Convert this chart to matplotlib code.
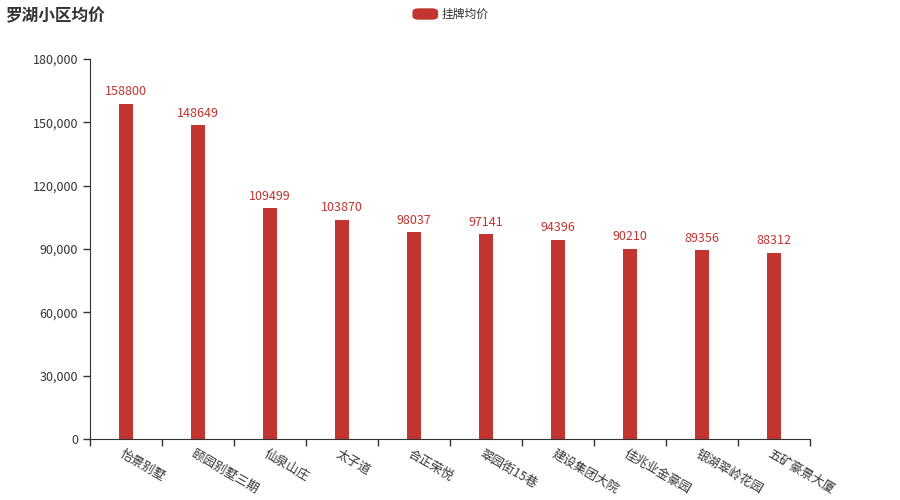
import matplotlib.pyplot as plt
import numpy as np
from matplotlib.patches import FancyBboxPatch
from matplotlib.ticker import FuncFormatter, MultipleLocator

plt.rcParams['font.family'] = ['Noto Sans CJK SC', 'DejaVu Sans']

# 数据
names = ['怡景别墅', '颐园别墅三期', '仙泉山庄', '太子道', '合正荣悦',
         '翠园街15巷', '建设集团大院', '佳兆业金豪园', '银湖翠岭花园', '五矿豪景大厦']
prices = [158800, 148649, 109499, 103870, 98037, 97141, 94396, 90210, 89356, 88312]

RED = '#c23531'
AXIS = '#333333'

fig = plt.figure(figsize=(9, 5), dpi=100)
ax = fig.add_axes([0.1, 0.122, 0.8, 0.76])

x = np.arange(len(names))
ax.bar(x, prices, width=0.19, color=RED, zorder=2)
for xi, v in zip(x, prices):
    ax.text(xi, v + 2500, str(v), ha='center', va='bottom', color=RED, fontsize=9)

ax.set_xlim(-0.5, len(names) - 0.5)
ax.set_ylim(0, 180000)
ax.yaxis.set_major_locator(MultipleLocator(30000))
ax.yaxis.set_major_formatter(FuncFormatter(lambda v, p: f'{int(v):,}'))

# 类目轴刻度在边界
ax.set_xticks(np.arange(-0.5, len(names), 1.0))
ax.set_xticklabels([])
ax.tick_params(axis='x', length=5, color=AXIS, width=1)
ax.tick_params(axis='y', length=5, color=AXIS, width=1, labelsize=9, labelcolor=AXIS)
for xi, n in zip(x, names):
    ax.text(xi - 0.03, -4000, n, rotation=-30, rotation_mode='anchor', ha='left', va='top',
            fontsize=9, color=AXIS)

for s in ['top', 'right']:
    ax.spines[s].set_visible(False)
for s in ['left', 'bottom']:
    ax.spines[s].set_color(AXIS)

# 标题和图例
fig.text(0.006, 0.968, '罗湖小区均价', fontsize=12, fontweight='bold', color=AXIS, va='center')
leg = FancyBboxPatch((0.459, 0.962), 0.027, 0.02, boxstyle='round,pad=0,rounding_size=0.006',
                     transform=fig.transFigure, color=RED)
fig.patches.append(leg)
fig.text(0.491, 0.972, '挂牌均价', fontsize=8.5, color=AXIS, va='center')

fig.savefig('out.png', dpi=100)
